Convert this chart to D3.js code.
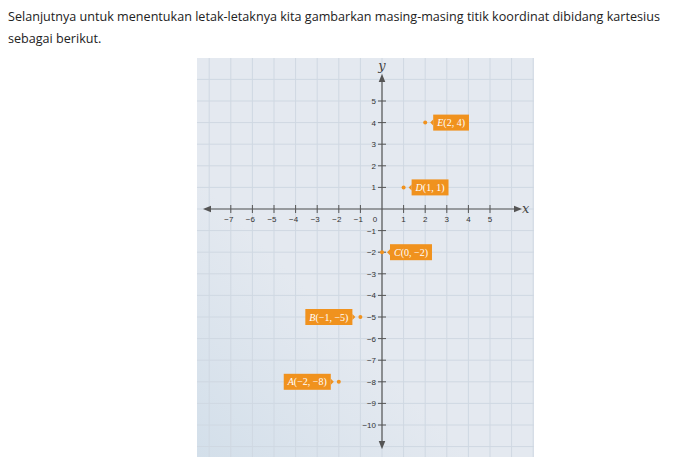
<!DOCTYPE html>
<html><head><meta charset="utf-8">
<script src="https://cdn.jsdelivr.net/npm/d3@7"></script>
<style>body{margin:0;background:#fff}</style>
</head><body>
<svg id="c" width="695" height="470"></svg>
<script>
var introLines = ["Selanjutnya untuk menentukan letak-letaknya kita gambarkan masing-masing titik koordinat dibidang kartesius",
                  "sebagai berikut."];
var xTicks = [-7,-6,-5,-4,-3,-2,-1,1,2,3,4,5];
var yTicks = [5,4,3,2,1,-1,-2,-3,-4,-5,-6,-7,-8,-9,-10];
var pointNames = ["A","B","C","D","E"];
var pointX = [-2,-1,0,1,2];
var pointY = [-8,-5,-2,1,4];
var pointLabel = ["(\u22122, \u22128)","(\u22121, \u22125)","(0, \u22122)","(1, 1)","(2, 4)"];
var pointSide = ["left","left","right","right","right"];

var svg = d3.select("#c");
svg.selectAll("text.intro").data(introLines).enter().append("text")
  .attr("x", 8).attr("y", function(d,i){ return 21 + i*22; })
  .style("font-family","'Open Sans', sans-serif").style("font-size","12.6px").attr("fill","#222")
  .text(function(d){ return d; });

var P = {l:197, t:58, r:534, b:457};
var defs = svg.append("defs");
var g1 = defs.append("linearGradient").attr("id","bg").attr("x1","0").attr("y1","1").attr("x2","0.35").attr("y2","0.6");
g1.append("stop").attr("offset","0").attr("stop-color","#d3dfea");
g1.append("stop").attr("offset","1").attr("stop-color","#e4e9f0");
svg.append("rect").attr("x",P.l).attr("y",P.t).attr("width",P.r-P.l).attr("height",P.b-P.t).attr("fill","url(#bg)");

var x = d3.scaleLinear().domain([0,1]).range([382,403.6]);
var y = d3.scaleLinear().domain([0,1]).range([209,187.4]);

var clip = svg.append("g");
d3.range(-8,8).forEach(function(v){
  var px = x(v); if (px < P.l || px > P.r) return;
  clip.append("line").attr("x1",px).attr("x2",px).attr("y1",P.t).attr("y2",P.b).attr("stroke","#cfd8e2").attr("stroke-width",1);
});
d3.range(-11,8).forEach(function(v){
  var py = y(v); if (py < P.t || py > P.b) return;
  clip.append("line").attr("y1",py).attr("y2",py).attr("x1",P.l).attr("x2",P.r).attr("stroke","#cfd8e2").attr("stroke-width",1);
});

var axisCol = "#555";
defs.append("marker").attr("id","ar").attr("viewBox","0 0 10 10").attr("refX",5).attr("refY",5)
  .attr("markerWidth",7).attr("markerHeight",7).attr("orient","auto-start-reverse")
  .append("path").attr("d","M0,1L10,5L0,9z").attr("fill",axisCol);
svg.append("line").attr("x1",207).attr("x2",518).attr("y1",y(0)).attr("y2",y(0))
  .attr("stroke",axisCol).attr("stroke-width",1.2).attr("marker-start","url(#ar)").attr("marker-end","url(#ar)");
svg.append("line").attr("x1",x(0)).attr("x2",x(0)).attr("y1",78).attr("y2",445)
  .attr("stroke",axisCol).attr("stroke-width",1.2).attr("marker-start","url(#ar)").attr("marker-end","url(#ar)");

var tf = "'Liberation Sans', Arial, sans-serif";
xTicks.forEach(function(v){
  svg.append("line").attr("x1",x(v)).attr("x2",x(v)).attr("y1",y(0)-4).attr("y2",y(0)+4).attr("stroke",axisCol);
  svg.append("text").attr("x",x(v)-(v<0?2:0)).attr("y",y(0)+13).attr("text-anchor","middle")
    .style("font-family",tf).style("font-size","8px").attr("fill","#333").text(v<0?"\u2212"+(-v):v);
});
svg.append("text").attr("x",x(0)-7).attr("y",y(0)+13).attr("text-anchor","middle")
  .style("font-family",tf).style("font-size","8px").attr("fill","#333").text("0");
yTicks.forEach(function(v){
  svg.append("line").attr("x1",x(0)-4).attr("x2",x(0)+4).attr("y1",y(v)).attr("y2",y(v)).attr("stroke",axisCol);
  svg.append("text").attr("x",x(0)-6).attr("y",y(v)+3).attr("text-anchor","end")
    .style("font-family",tf).style("font-size","8px").attr("fill","#333").text(v<0?"\u2212"+(-v):v);
});
svg.append("text").attr("x",522).attr("y",y(0)+4).style("font-family","'DejaVu Serif', serif").style("font-style","italic")
  .style("font-size","13px").attr("fill","#444").text("x");
svg.append("text").attr("x",x(0)).attr("y",70).attr("text-anchor","middle").style("font-family","'DejaVu Serif', serif").style("font-style","italic")
  .style("font-size","13px").attr("fill","#444").text("y");

var orange = "#f0921e";
pointNames.forEach(function(n,i){
  var px = x(pointX[i]), py = y(pointY[i]);
  svg.append("circle").attr("cx",px).attr("cy",py).attr("r",2).attr("fill",orange);
  var t = svg.append("text").attr("y",py+3.5).style("font-family","'Liberation Serif', serif").style("font-size","10px").attr("fill","#fff");
  t.append("tspan").style("font-style","italic").text(n);
  t.append("tspan").text(pointLabel[i]);
  var w = t.node().getComputedTextLength() + 8;
  var bx = pointSide[i] == "right" ? px + 8 : px - 8 - w;
  t.attr("x", bx + 4);
  var tipX = pointSide[i] == "right" ? bx - 3 : bx + w + 3;
  var edge = pointSide[i] == "right" ? bx : bx + w;
  svg.insert("path","text:last-of-type")
    .attr("d","M"+edge+","+(py-3)+"L"+tipX+","+py+"L"+edge+","+(py+3)+"z").attr("fill",orange);
  svg.insert("rect","text:last-of-type").attr("x",bx).attr("y",py-8).attr("width",w).attr("height",16).attr("fill",orange);
});
</script>
</body></html>
